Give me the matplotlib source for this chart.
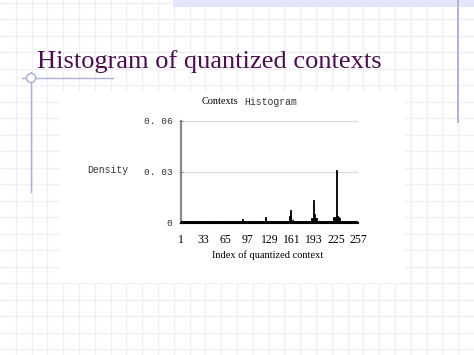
import matplotlib
matplotlib.use("Agg")
import matplotlib.pyplot as plt
from matplotlib.patches import Rectangle, Circle
import numpy as np

# ---------------- data ----------------
slide_title = "Histogram of quantized contexts"
chart_title_a = "Contexts"
chart_title_b = "Histogram"
y_label = "Density"
x_label = "Index of quantized context"

x_ticks = [1, 33, 65, 97, 129, 161, 193, 225, 257]
y_ticks = [0, 0.03, 0.06]
y_tick_labels = ["0", "0. 03", "0. 06"]

context_index = list(range(1, 258))
density = [
    0.0015, 0.0012, 0.0012, 0.0012, 0.0012, 0.0012, 0.0012, 0.0012, 0.0012, 0.0012, 0.0012, 0.0012, 0.0012, 0.0012, 0.0012, 0.0012,
    0.0012, 0.0012, 0.0012, 0.0012, 0.0012, 0.0012, 0.0012, 0.0012, 0.0012, 0.0012, 0.0012, 0.0012, 0.0012, 0.0012, 0.0012, 0.0012,
    0.0012, 0.0012, 0.0012, 0.0012, 0.0012, 0.0012, 0.0012, 0.0012, 0.0012, 0.0012, 0.0012, 0.0012, 0.0012, 0.0012, 0.0012, 0.0012,
    0.0012, 0.0012, 0.0012, 0.0012, 0.0012, 0.0012, 0.0012, 0.0012, 0.0012, 0.0012, 0.0012, 0.0012, 0.0012, 0.0012, 0.0012, 0.0012,
    0.0012, 0.0012, 0.0012, 0.0012, 0.0012, 0.0012, 0.0012, 0.0012, 0.0012, 0.0012, 0.0012, 0.0012, 0.0012, 0.0012, 0.0012, 0.0012,
    0.0012, 0.0012, 0.0012, 0.0012, 0.0012, 0.0012, 0.0012, 0.0012, 0.0012, 0.0022, 0.0012, 0.0012, 0.0012, 0.0012, 0.0012, 0.0012,
    0.0012, 0.0012, 0.0012, 0.0012, 0.0012, 0.0012, 0.0012, 0.0012, 0.0012, 0.0012, 0.0012, 0.0012, 0.0012, 0.0012, 0.0012, 0.0012,
    0.0012, 0.0012, 0.0012, 0.0012, 0.0012, 0.0012, 0.0012, 0.0012, 0.0012, 0.0012, 0.0032, 0.0012, 0.0012, 0.0012, 0.0012, 0.0012,
    0.0012, 0.0012, 0.0012, 0.0012, 0.0012, 0.0012, 0.0012, 0.0012, 0.0012, 0.0012, 0.0012, 0.0012, 0.0012, 0.0012, 0.0012, 0.0012,
    0.0012, 0.0012, 0.0012, 0.0012, 0.0012, 0.0012, 0.0012, 0.0012, 0.0012, 0.0012, 0.0012, 0.0012, 0.0012, 0.0040, 0.0075, 0.0035,
    0.0018, 0.0012, 0.0022, 0.0012, 0.0012, 0.0012, 0.0012, 0.0012, 0.0012, 0.0012, 0.0012, 0.0012, 0.0012, 0.0012, 0.0012, 0.0012,
    0.0012, 0.0012, 0.0012, 0.0012, 0.0012, 0.0012, 0.0012, 0.0012, 0.0012, 0.0012, 0.0012, 0.0012, 0.0025, 0.0030, 0.0020, 0.0060,
    0.0135, 0.0050, 0.0020, 0.0030, 0.0028, 0.0012, 0.0012, 0.0012, 0.0012, 0.0012, 0.0012, 0.0012, 0.0012, 0.0012, 0.0012, 0.0012,
    0.0012, 0.0012, 0.0012, 0.0012, 0.0012, 0.0012, 0.0012, 0.0012, 0.0012, 0.0012, 0.0012, 0.0012, 0.0012, 0.0035, 0.0032, 0.0020,
    0.0040, 0.0310, 0.0040, 0.0020, 0.0035, 0.0030, 0.0012, 0.0012, 0.0012, 0.0012, 0.0012, 0.0012, 0.0012, 0.0012, 0.0012, 0.0012,
    0.0012, 0.0012, 0.0012, 0.0012, 0.0012, 0.0012, 0.0012, 0.0012, 0.0012, 0.0012, 0.0012, 0.0012, 0.0012, 0.0012, 0.0012, 0.0012,
    0.0040,
]

# ---------------- figure ----------------
W, H = 474, 355
fig = plt.figure(figsize=(W / 100, H / 100), dpi=100)
fig.patch.set_facecolor("white")

# slide background (pixel coordinates)
bg = fig.add_axes([0, 0, 1, 1], zorder=0)
bg.set_xlim(0, W)
bg.set_ylim(H, 0)
bg.axis("off")

grid_col = "#EFEFF5"
for gx in np.arange(15.8, W, 15.8):
    bg.plot([gx, gx], [0, H], color=grid_col, lw=0.9, zorder=1)
for gy in np.arange(349, 0, -16.5):
    bg.plot([0, W], [gy, gy], color=grid_col, lw=0.9, zorder=1)

# top band
bg.add_patch(Rectangle((173, 0), W - 173, 7, facecolor="#E3E5F8", edgecolor="none", zorder=2))
# right vertical line
bg.plot([458, 458], [0, 122], color="#AEB2DE", lw=1.4, zorder=3)
# left decoration
deco = "#A9AEDA"
bg.plot([31, 31], [72, 192], color=deco, lw=1.0, zorder=3)
bg.plot([22, 113], [78, 78], color=deco, lw=1.0, zorder=3)
bg.add_patch(Circle((31, 78), 4.5, facecolor="white", edgecolor=deco, lw=1.0, zorder=4))

# white panel behind the chart
bg.add_patch(Rectangle((60, 92), 345, 191, facecolor="white", edgecolor="none", zorder=2))

# slide title
bg.text(37, 68, slide_title, fontsize=19, family="Liberation Serif",
        color="#4A0E4E", ha="left", va="baseline", zorder=5)

# chart title
bg.text(238, 102, chart_title_a, fontsize=7.4, family="Liberation Serif",
        color="black", ha="right", va="center", zorder=5)
bg.text(244, 102, chart_title_b, fontsize=7.0, family="Liberation Mono",
        color="#333333", ha="left", va="center", zorder=5)

# y label
bg.text(108, 170, y_label, fontsize=7.0, family="Liberation Mono",
        color="#333333", ha="center", va="center", zorder=5)

# x label
bg.text(268, 255.5, x_label, fontsize=7.5, family="Liberation Serif",
        color="black", ha="center", va="center", zorder=5)

# ---------------- chart axes ----------------
ax_left, ax_right = 181, 358
ax_top, ax_bottom = 120.7, 222.7
ax = fig.add_axes([ax_left / W, (H - ax_bottom) / H,
                   (ax_right - ax_left) / W, (ax_bottom - ax_top) / H], zorder=3)
ax.set_facecolor("none")

ax.bar(context_index, density, width=1.0, color="black", edgecolor="black",
       linewidth=0.6, zorder=3)

ax.set_xlim(1, 257)
ax.set_ylim(0, 0.06)
ax.set_xticks(x_ticks)
ax.set_xticklabels([str(t) for t in x_ticks], fontsize=8.5, family="Liberation Serif")
ax.set_yticks(y_ticks)
ax.set_yticklabels(y_tick_labels, fontsize=6.8, family="Liberation Mono", color="#333333")
ax.tick_params(axis="x", length=0, pad=8)
ax.tick_params(axis="y", length=2.5, width=0.8, color="#888888", direction="inout", pad=5)

for yv in [0.03, 0.06]:
    ax.axhline(yv, color="#DADADA", lw=0.8, zorder=1)

for s in ["top", "right"]:
    ax.spines[s].set_visible(False)
ax.spines["left"].set_color("#8A8A8A")
ax.spines["left"].set_linewidth(1.6)
ax.spines["bottom"].set_color("black")
ax.spines["bottom"].set_linewidth(1.5)
ax.spines["bottom"].set_zorder(4)

fig.savefig("out.png", dpi=100)
